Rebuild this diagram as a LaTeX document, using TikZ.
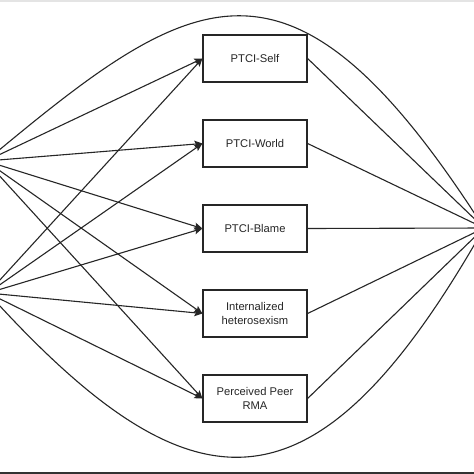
\documentclass[tikz,border=0pt]{standalone}
\usepackage{fontspec}
\setmainfont{Liberation Sans}
\usetikzlibrary{arrows.meta}
\definecolor{ink}{HTML}{262626}
\definecolor{topband}{HTML}{E4E4E4}
\definecolor{botband}{HTML}{333333}
\tikzset{
  varbox/.style={draw=ink, line width=1.2pt, minimum width=104pt, minimum height=47pt,
    inner sep=0pt, align=center, font=\fontsize{11.2}{14}\selectfont, text=ink},
  path/.style={draw=ink, line width=1.1pt},
  arr/.style={path, -{Stealth[length=8pt,width=7pt,inset=1.5pt]}},
}
\begin{document}
\begin{tikzpicture}[x=1pt,y=-1pt]
\useasboundingbox (0,0) rectangle (474,474);
\clip (0,0) rectangle (474,474);
\fill[white] (0,0) rectangle (474,474);
\fill[topband] (0,0) rectangle (474,2);
\fill[botband] (0,471.5) rectangle (474,474);

\coordinate (L1) at (-14,161);
\coordinate (L2) at (-12,293);
\coordinate (R) at (484,228);

\node[varbox] (self) at (255,58.5) {PTCI-Self};
\node[varbox] (world) at (255,143.5) {PTCI-World};
\node[varbox] (blame) at (255,228.5) {PTCI-Blame};
\node[varbox] (inth) at (255,313.5) {Internalized\\heterosexism};
\node[varbox] (peer) at (255,398.5) {Perceived Peer\\RMA};

\foreach \t in {self,world,blame,inth,peer}{
  \draw[arr] (L1) -- (\t.west);
  \draw[arr] (L2) -- (\t.west);
  \draw[path] (\t.east) -- (R);
}

\draw[path] (L1) .. controls (192,-10.6) and (289,-77) .. (R);
\draw[path] (L2) .. controls (193.5,519.8) and (315.8,524.2) .. (R);
\end{tikzpicture}
\end{document}
